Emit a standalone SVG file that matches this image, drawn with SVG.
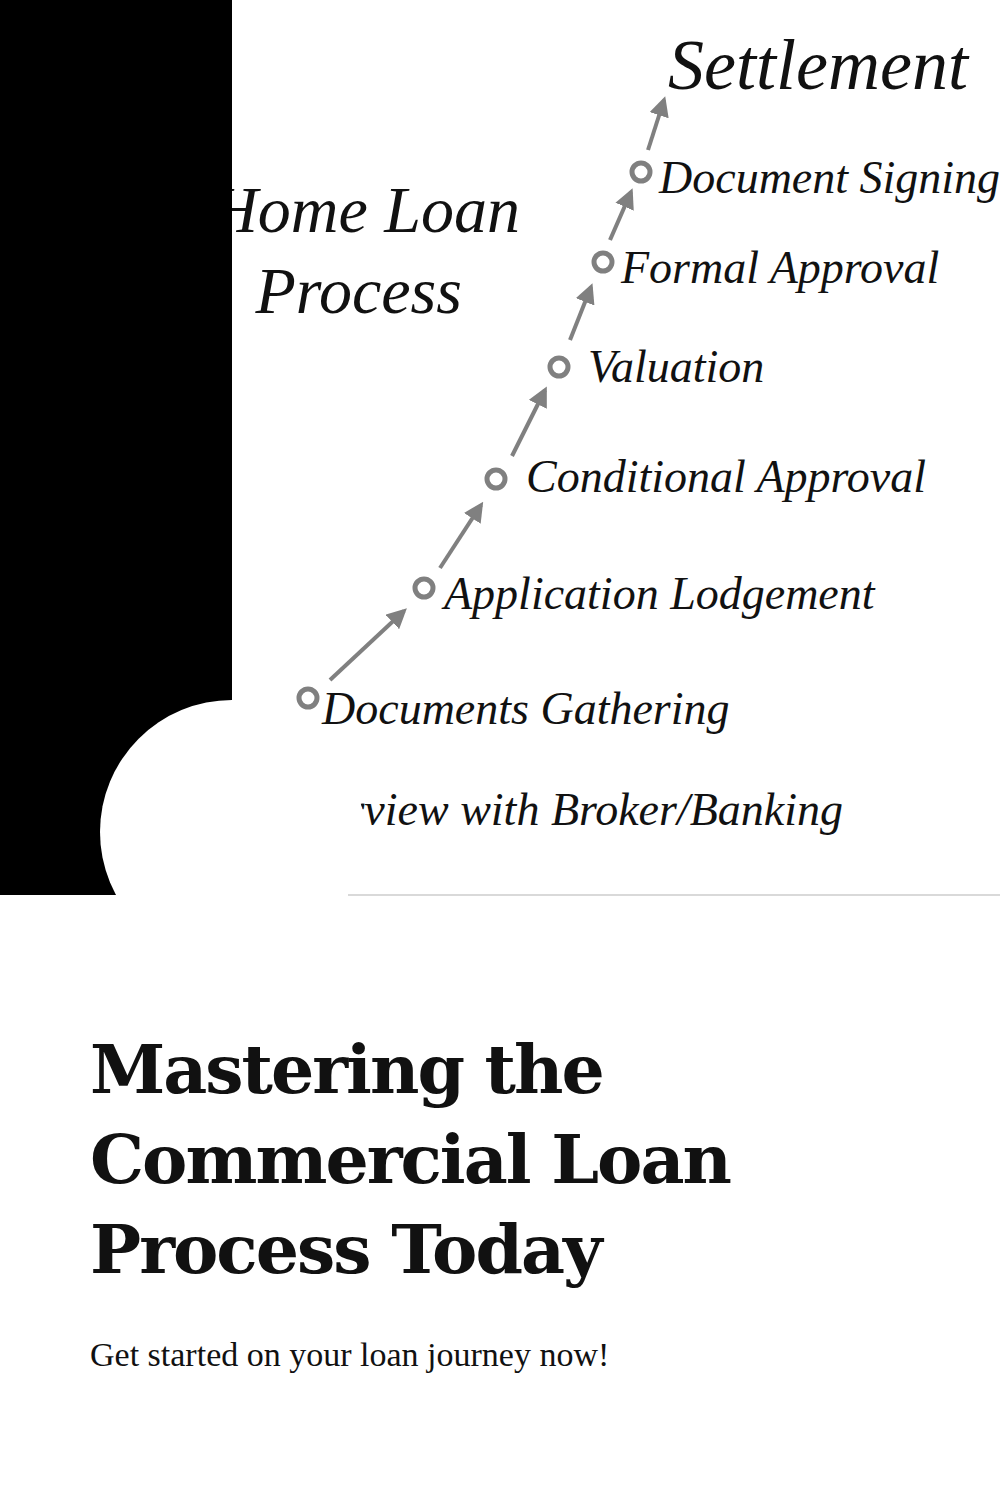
<svg xmlns="http://www.w3.org/2000/svg" width="1000" height="1500" viewBox="0 0 1000 1500">
<style>
.it{font-family:"Liberation Serif",serif;font-style:italic;fill:#111}
.st{font-size:46px}
.h{font-family:"DejaVu Serif","Liberation Serif",serif;font-weight:bold;font-size:68px;fill:#111;letter-spacing:-2px}
.dot{fill:#fff;stroke:#808080;stroke-width:5}
.ar{stroke:#808080;stroke-width:4;fill:none;marker-end:url(#ah)}
</style>
<defs><marker id="ah" viewBox="0 0 10 10" refX="8" refY="5" markerWidth="5" markerHeight="5" orient="auto"><path d="M0 0L10 5L0 10z" fill="#808080"/></marker></defs>
<rect width="1000" height="1500" fill="#fff"/>
<text class="it" x="520" y="232" font-size="66" text-anchor="end">Home Loan</text>
<text class="it" x="462" y="313" font-size="66" text-anchor="end">Process</text>
<text class="it st" x="843" y="825" text-anchor="end">Interview with Broker/Banking</text>
<rect x="0" y="0" width="232" height="895" fill="#000"/>
<circle cx="232" cy="832" r="132" fill="#fff"/>
<rect x="232" y="832" width="130" height="63" fill="#fff"/>
<line x1="348" y1="895" x2="1000" y2="895" stroke="#ccc" stroke-width="1.5"/>
<g id="connectors">
<line class="ar" x1="330" y1="680" x2="404" y2="611"/>
<line class="ar" x1="440" y1="568" x2="481" y2="505"/>
<line class="ar" x1="512" y1="456" x2="545" y2="390"/>
<line class="ar" x1="570" y1="340" x2="591" y2="287"/>
<line class="ar" x1="610" y1="240" x2="631" y2="192"/>
<line class="ar" x1="648" y1="150" x2="664" y2="100"/>
</g>
<g id="n1"><circle class="dot" cx="308" cy="698" r="9"/><text class="it st" x="322" y="724">Documents Gathering</text></g>
<g id="n2"><circle class="dot" cx="424" cy="588" r="9"/><text class="it st" x="444" y="609">Application Lodgement</text></g>
<g id="n3"><circle class="dot" cx="496" cy="479" r="9"/><text class="it st" x="526" y="492">Conditional Approval</text></g>
<g id="n4"><circle class="dot" cx="559" cy="367" r="9"/><text class="it st" x="588" y="382">Valuation</text></g>
<g id="n5"><circle class="dot" cx="603" cy="262" r="9"/><text class="it st" x="621" y="283">Formal Approval</text></g>
<g id="n6"><circle class="dot" cx="641" cy="172" r="9"/><text class="it st" x="659" y="193">Document Signing</text></g>
<g id="n7"><text class="it" x="668" y="89" font-size="72">Settlement</text></g>
<text class="h" x="90" y="1093">Mastering the</text>
<text class="h" x="90" y="1183">Commercial Loan</text>
<text class="h" x="90" y="1273">Process Today</text>
<text x="90" y="1366" font-family="Liberation Serif,serif" font-size="34" fill="#111">Get started on your loan journey now!</text>
</svg>
